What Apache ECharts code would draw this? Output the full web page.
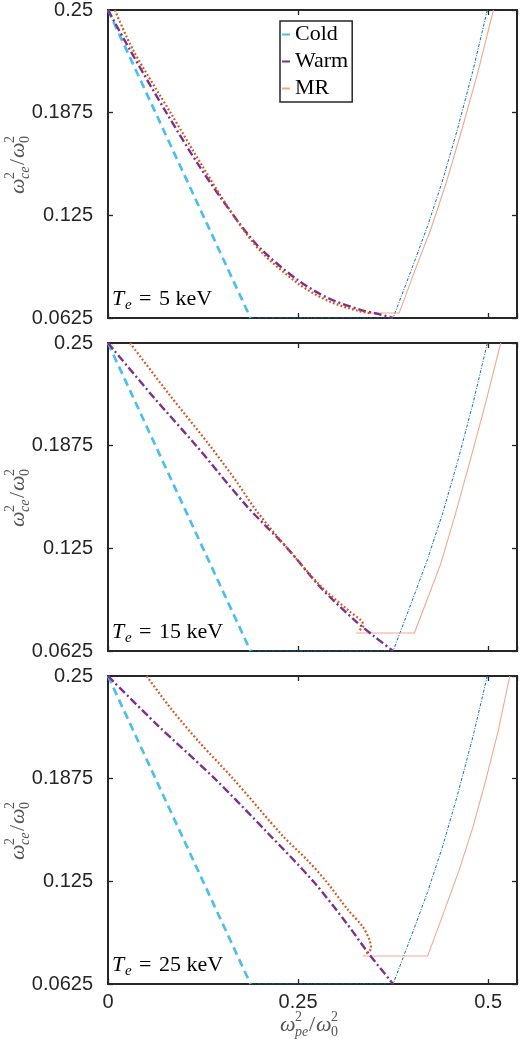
<!DOCTYPE html>
<html>
<head>
<meta charset="utf-8">
<script src="https://cdn.jsdelivr.net/npm/echarts@6/dist/echarts.min.js"></script>
<style>
html, body { margin: 0; padding: 0; background: #fff; }
#chart { width: 520px; height: 1043px; }
</style>
</head>
<body>
<div id="chart"></div>
<script>
// tick values and labels
var xTickValues = [0, 0.25, 0.5];
var xTickLabels = ["0", "0.25", "0.5"];
var yTickValues = [0.0625, 0.125, 0.1875, 0.25];
var yTickLabels = ["0.0625", "0.125", "0.1875", "0.25"];
var panelTemps = ["5", "15", "25"];
var legendNames = ["Cold", "Warm", "MR"];

// cold plasma (same in every panel)
var coldLeft = [[0, 0.25], [0.1875, 0.0625]];
var coldRight = [[0.1875, 0.0625], [0.375, 0.0625], [0.40, 0.093], [0.42, 0.118],
                 [0.44, 0.146], [0.46, 0.178], [0.48, 0.213], [0.499, 0.25]];

// Te = 5 keV
var warm5 = [[0, 0.25], [0.029, 0.2256], [0.077, 0.1873], [0.121, 0.1543], [0.165, 0.125],
             [0.2, 0.105], [0.25, 0.0855], [0.29, 0.0745], [0.332, 0.0675], [0.355, 0.065], [0.375, 0.0625]];
var mr5 = [[0.009, 0.25], [0.033, 0.2256], [0.0825, 0.1873], [0.125, 0.1543], [0.165, 0.125],
           [0.2, 0.1035], [0.25, 0.0835], [0.29, 0.0728], [0.33, 0.0667], [0.344, 0.0655]];
var mrRight5 = [[0.344, 0.0655], [0.383, 0.0655], [0.405, 0.093], [0.425, 0.117], [0.445, 0.145],
                [0.466, 0.178], [0.487, 0.213], [0.507, 0.25]];

// Te = 15 keV
var warm15 = [[0, 0.25], [0.06, 0.217], [0.116, 0.1875], [0.182, 0.151], [0.236, 0.125],
              [0.28, 0.101], [0.325, 0.081], [0.35, 0.0715], [0.375, 0.0625]];
var mr15 = [[0.029, 0.25], [0.08, 0.219], [0.134, 0.1875], [0.17, 0.165], [0.195, 0.148],
            [0.236, 0.125], [0.28, 0.102], [0.318, 0.0865], [0.333, 0.081], [0.336, 0.078], [0.329, 0.0745]];
var mrRight15 = [[0.326, 0.0735], [0.403, 0.0735], [0.42, 0.094], [0.438, 0.116], [0.457, 0.146],
                 [0.477, 0.1795], [0.497, 0.214], [0.5166, 0.25]];

// Te = 25 keV
var warm25 = [[0, 0.25], [0.063, 0.221], [0.1404, 0.1875], [0.21, 0.1545], [0.27, 0.125],
              [0.313, 0.1], [0.343, 0.081], [0.375, 0.0625]];
var mr25 = [[0.0508, 0.25], [0.0836, 0.2297], [0.1207, 0.2094], [0.1645, 0.1875], [0.23, 0.1526],
            [0.262, 0.138], [0.287, 0.125], [0.315, 0.108], [0.335, 0.0974], [0.344, 0.0893],
            [0.346, 0.0842], [0.337, 0.0802]];
var mrRight25 = [[0.335, 0.0795], [0.4204, 0.0795], [0.44, 0.104], [0.462, 0.132], [0.48, 0.158],
                 [0.496, 0.185], [0.513, 0.216], [0.5285, 0.25]];

var warmData = [warm5, warm15, warm25];
var mrData = [mr5, mr15, mr25];
var mrRightData = [mrRight5, mrRight15, mrRight25];

// layout
var GRID_TOP = [10, 343, 676];
var GRID_HEIGHT = 308;
var LEFT = 108;
var RIGHT = 3;
var X_MAX = 0.538;
var AXIS_COLOR = "#262626";
var LABEL_COLOR = "#555";
var SERIF = "Liberation Serif";

var COLD_COLOR = "#4DBEEE";
var COLD_THIN = "#0072BD";
var WARM_COLOR = "#7E2F8E";
var MR_COLOR = "#D95319";
var MR_THIN = "#EFA98C";

function tickFormatter(values, labels) {
    return function (v) {
        for (var k = 0; k < values.length; k++) {
            if (Math.abs(values[k] - v) < 1e-6) return labels[k];
        }
        return "";
    };
}

function axisName(x, y, rotation, sub) {
    function t(tx, ty, text, size, italic) {
        return {type: "text", x: tx, y: ty, style: {
            text: text, fontFamily: SERIF, fontStyle: italic ? "italic" : "normal",
            fontSize: size, fill: LABEL_COLOR, verticalAlign: "middle"
        }};
    }
    return {
        type: "group", x: x, y: y, rotation: rotation,
        children: [
            t(0, 0, "\u03c9", 22, true),
            t(15, -8, "2", 14, false),
            t(15, 7, sub, 14, true),
            t(29, 0, "/", 22, false),
            t(36, 0, "\u03c9", 22, true),
            t(51, -8, "2", 14, false),
            t(51, 7, "0", 14, false)
        ]
    };
}

var grids = [], xAxes = [], yAxes = [], series = [], graphics = [];

for (var i = 0; i < 3; i++) {
    grids.push({
        left: LEFT, right: RIGHT, top: GRID_TOP[i], height: GRID_HEIGHT,
        outerBoundsMode: "none", containLabel: false
    });
    ["bottom", "top"].forEach(function (pos) {
        xAxes.push({
            type: "value", gridIndex: i, position: pos,
            min: 0, max: X_MAX, interval: 0.25,
            axisLine: {show: true, onZero: false, lineStyle: {color: AXIS_COLOR, width: 2}},
            axisTick: {show: true, inside: true, length: 5, lineStyle: {color: AXIS_COLOR, width: 1.3}},
            splitLine: {show: false},
            axisLabel: {
                show: pos == "bottom" && i == 2,
                formatter: tickFormatter(xTickValues, xTickLabels),
                fontFamily: "Liberation Sans", fontSize: 20, color: AXIS_COLOR, margin: 8
            }
        });
    });
    ["left", "right"].forEach(function (pos) {
        yAxes.push({
            type: "value", gridIndex: i, position: pos,
            min: 0.0625, max: 0.25, interval: 0.0625,
            axisLine: {show: true, onZero: false, lineStyle: {color: AXIS_COLOR, width: 2}},
            axisTick: {show: true, inside: true, length: 5, lineStyle: {color: AXIS_COLOR, width: 1.3}},
            splitLine: {show: false},
            axisLabel: {
                show: pos == "left",
                formatter: tickFormatter(yTickValues, yTickLabels),
                fontFamily: "Liberation Sans", fontSize: 20, color: AXIS_COLOR, margin: 15
            }
        });
    });

    var xi = i * 2, yi = i * 2;
    series.push({
        name: "Cold thin", type: "line", xAxisIndex: xi, yAxisIndex: yi, data: coldRight,
        symbol: "none", lineStyle: {color: COLD_THIN, width: 1, type: [3, 1.5, 1, 1.5]}, z: 2
    });
    series.push({
        name: "MR thin", type: "line", xAxisIndex: xi, yAxisIndex: yi, data: mrRightData[i],
        symbol: "none", lineStyle: {color: MR_THIN, width: 1.1}, z: 2
    });
    series.push({
        name: "Cold", type: "line", xAxisIndex: xi, yAxisIndex: yi, data: coldLeft,
        symbol: "none", lineStyle: {color: COLD_COLOR, width: 2.7, type: [8, 5], cap: "butt"}, z: 3
    });
    series.push({
        name: "Warm", type: "line", xAxisIndex: xi, yAxisIndex: yi, data: warmData[i],
        symbol: "none", smooth: 0.3,
        lineStyle: {color: WARM_COLOR, width: 2.4, type: [8, 3, 2, 3], cap: "butt"}, z: 3
    });
    series.push({
        name: "MR", type: "line", xAxisIndex: xi, yAxisIndex: yi, data: mrData[i],
        symbol: "none", smooth: 0.3,
        lineStyle: {color: MR_COLOR, width: 2.2, type: [1.8, 2.2], cap: "butt"}, z: 4
    });

    // temperature label
    var cy = GRID_TOP[i] + GRID_HEIGHT - 19;
    graphics.push({
        type: "group", z: 10,
        children: [
            {type: "text", x: 112, y: cy, style: {text: "T", fontFamily: SERIF, fontStyle: "italic", fontSize: 22, fill: "#000", verticalAlign: "middle"}},
            {type: "text", x: 125, y: cy + 6, style: {text: "e", fontFamily: SERIF, fontStyle: "italic", fontSize: 15, fill: "#000", verticalAlign: "middle"}},
            {type: "text", x: 139, y: cy, style: {text: "=", fontFamily: SERIF, fontSize: 22, fill: "#000", verticalAlign: "middle"}},
            {type: "text", x: 159, y: cy, style: {text: panelTemps[i] + " keV", fontFamily: SERIF, fontSize: 22, fill: "#000", verticalAlign: "middle"}}
        ]
    });

    // y axis name
    graphics.push(axisName(18, GRID_TOP[i] + GRID_HEIGHT / 2 + 30, Math.PI / 2, "ce"));
}

graphics.push(axisName(280, 1025, 0, "pe"));

var chart = echarts.init(document.getElementById("chart"));
chart.setOption({
    animation: false,
    backgroundColor: "#fff",
    grid: grids,
    xAxis: xAxes,
    yAxis: yAxes,
    legend: {
        left: 280, top: 21, orient: "vertical",
        selectedMode: false,
        borderColor: AXIS_COLOR, borderWidth: 1.5, borderRadius: 0,
        padding: [0, 4, 0, 2],
        itemGap: 0, itemWidth: 8, itemHeight: 2,
        textStyle: {fontFamily: SERIF, fontSize: 22, color: "#000", lineHeight: 27},
        data: [
            {name: legendNames[0], icon: "rect", itemStyle: {color: COLD_COLOR}},
            {name: legendNames[1], icon: "rect", itemStyle: {color: WARM_COLOR}},
            {name: legendNames[2], icon: "rect", itemStyle: {color: MR_THIN}}
        ]
    },
    graphic: graphics,
    series: series
});
</script>
</body>
</html>
